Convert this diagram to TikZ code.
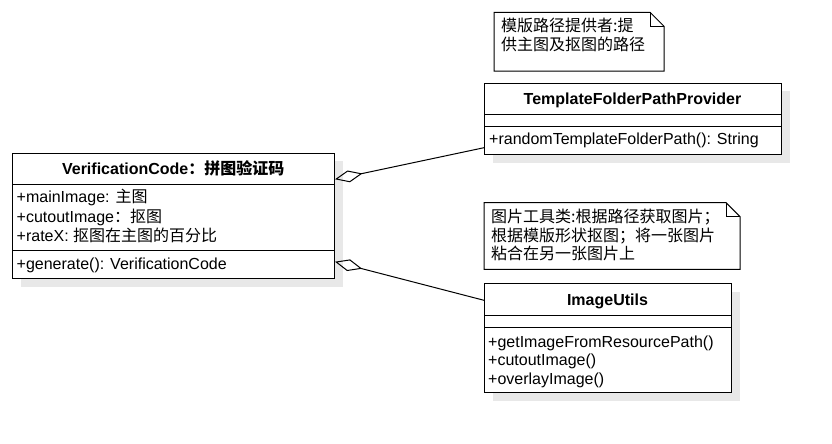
\documentclass[tikz,border=0pt]{standalone}
\usepackage{fontspec}
\setmainfont{Liberation Sans}
\newfontfamily\cjk{Noto Sans CJK SC}
\usetikzlibrary{arrows.meta,shadows}
\newcommand{\zh}[1]{{\cjk #1}}
\begin{document}
\begin{tikzpicture}[x=1pt,y=-1pt,
  every node/.style={inner sep=0pt, font=\fontsize{16}{18.5}\selectfont},
  umlbox/.style={draw=black, line width=1pt, fill=white, anchor=north west,
    drop shadow={shadow xshift=8pt, shadow yshift=-8pt, fill=black!9, opacity=1}},
  divider/.style={line width=1pt},
  txt/.style={anchor=base west},
  hdr/.style={anchor=base, font=\fontsize{16}{18.5}\selectfont\bfseries},
  notebox/.style={draw=black, line width=1pt, fill=white, line join=miter},
  aggr/.style={line width=1pt, -{Diamond[open, length=28pt, width=12pt, line width=1pt]}}
]
\useasboundingbox (0,0) rectangle (832,444);

% ---- notes ----
\draw[notebox] (494,12.3) -- (650,12.3) -- (664,26.3) -- (664,71) -- (494,71) -- cycle;
\draw[line width=1pt] (650,12.3) -- (650,26.3) -- (664,26.3);
\node[txt] (n1a) at (501,32) {\zh{模版路径提供者:提}};
\node[txt] (n1b) at (501,50.5) {\zh{供主图及抠图的路径}};

\draw[notebox] (484,202.7) -- (726,202.7) -- (740,216.7) -- (740,269.3) -- (484,269.3) -- cycle;
\draw[line width=1pt] (726,202.7) -- (726,216.7) -- (740,216.7);
\node[txt] (n2a) at (491,222) {\zh{图片工具类:根据路径获取图片；}};
\node[txt] (n2b) at (491,241) {\zh{根据模版形状抠图；将一张图片}};
\node[txt] (n2c) at (491,259.5) {\zh{粘合在另一张图片上}};

% ---- VerificationCode ----
\node[umlbox, minimum width=321.7pt, minimum height=125.6pt] (vc) at (12.3,152.7) {};
\draw[divider] ([yshift=-31.3pt]vc.north west) -- ([yshift=-31.3pt]vc.north east);
\draw[divider] ([yshift=-98pt]vc.north west) -- ([yshift=-98pt]vc.north east);
\node[hdr] (vch) at (173.2,174) {VerificationCode\zh{：拼图验证码}};
\node[txt] (vca1) at (16.5,202.5) {+mainImage: \zh{主图}};
\node[txt] (vca2) at (16.5,222) {+cutoutImage\zh{：抠图}};
\node[txt] (vca3) at (16.5,241.5) {+rateX: \zh{抠图在主图的百分比}};
\node[txt] (vcm1) at (16.5,269.5) {+generate(): VerificationCode};

% ---- TemplateFolderPathProvider ----
\node[umlbox, minimum width=297pt, minimum height=71.3pt] (tfp) at (484,82.7) {};
\draw[divider] ([yshift=-31.3pt]tfp.north west) -- ([yshift=-31.3pt]tfp.north east);
\draw[divider] ([yshift=-43.3pt]tfp.north west) -- ([yshift=-43.3pt]tfp.north east);
\node[hdr] (tfph) at (632.5,104) {TemplateFolderPathProvider};
\node[txt] (tfpm1) at (489,144) {+randomTemplateFolderPath(): String};

% ---- ImageUtils ----
\node[umlbox, minimum width=247pt, minimum height=109pt] (iu) at (484,283.3) {};
\draw[divider] ([yshift=-32.4pt]iu.north west) -- ([yshift=-32.4pt]iu.north east);
\draw[divider] ([yshift=-44pt]iu.north west) -- ([yshift=-44pt]iu.north east);
\node[hdr] (iuh) at (607.5,305.5) {ImageUtils};
\node[txt] (ium1) at (488,347) {+getImageFromResourcePath()};
\node[txt] (ium2) at (488,365.5) {+cutoutImage()};
\node[txt] (ium3) at (488,384) {+overlayImage()};

% ---- aggregations ----
\draw[aggr] ([yshift=-65pt]tfp.north west) -- ([yshift=-26.6pt]vc.north east);
\draw[aggr] ([yshift=-17pt]iu.north west) -- ([yshift=-109pt]vc.north east);
\end{tikzpicture}
\end{document}
